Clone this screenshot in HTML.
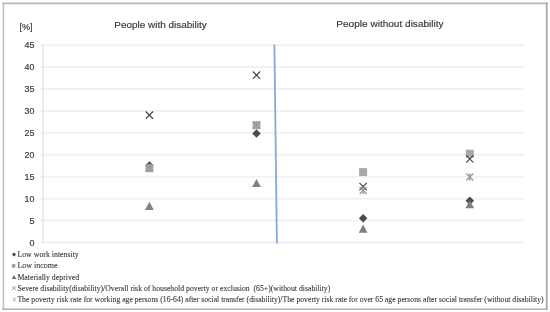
<!DOCTYPE html>
<html><head><meta charset="utf-8"><style>
html,body{margin:0;padding:0;background:#fff;}
body{width:550px;height:312px;overflow:hidden;position:relative;}
svg{position:absolute;left:0;top:0;filter:blur(0.45px);}
.ax{font-family:"Liberation Sans",sans-serif;font-size:9.8px;fill:#404040;stroke:#404040;stroke-width:0.22px;}
.tt{font-family:"Liberation Sans",sans-serif;font-size:9.8px;fill:#3a3a3a;stroke:#3a3a3a;stroke-width:0.18px;}
.lg text{font-family:"Liberation Serif",serif;font-size:7.5px;fill:#383838;stroke:#383838;stroke-width:0.1px;}
</style></head><body>
<svg width="550" height="312" viewBox="0 0 550 312">
<rect x="0" y="0" width="550" height="312" fill="#fff"/>
<line x1="2.2" y1="3.3" x2="547.6" y2="3.3" stroke="#b8b8b8" stroke-width="1.7"/>
<line x1="3.4" y1="2.5" x2="3.4" y2="310" stroke="#bdbdbd" stroke-width="1.5"/>
<line x1="546.75" y1="2.5" x2="546.75" y2="310" stroke="#a9a9a9" stroke-width="1.8"/>
<line x1="2.2" y1="309.2" x2="547.6" y2="309.2" stroke="#b0b0b0" stroke-width="1.5"/>
<line x1="40" y1="242.50" x2="524" y2="242.50" stroke="#f2f2f2" stroke-width="2"/>
<line x1="40" y1="220.57" x2="524" y2="220.57" stroke="#f2f2f2" stroke-width="2"/>
<line x1="40" y1="198.64" x2="524" y2="198.64" stroke="#f2f2f2" stroke-width="2"/>
<line x1="40" y1="176.71" x2="524" y2="176.71" stroke="#f2f2f2" stroke-width="2"/>
<line x1="40" y1="154.78" x2="524" y2="154.78" stroke="#f2f2f2" stroke-width="2"/>
<line x1="40" y1="132.85" x2="524" y2="132.85" stroke="#f2f2f2" stroke-width="2"/>
<line x1="40" y1="110.92" x2="524" y2="110.92" stroke="#f2f2f2" stroke-width="2"/>
<line x1="40" y1="88.99" x2="524" y2="88.99" stroke="#f2f2f2" stroke-width="2"/>
<line x1="40" y1="67.06" x2="524" y2="67.06" stroke="#f2f2f2" stroke-width="2"/>
<line x1="40" y1="45.13" x2="524" y2="45.13" stroke="#f2f2f2" stroke-width="2"/>
<line x1="42.9" y1="44.93" x2="42.9" y2="242.80" stroke="#eaeaea" stroke-width="1.8"/>
<polygon points="149.40,161.30 153.65,165.55 149.40,169.80 145.15,165.55" fill="#4a4a4a"/>
<rect x="145.40" y="164.18" width="8.00" height="8.00" fill="#a8a8a8"/>
<polygon points="149.40,201.70 153.80,209.90 145.00,209.90" fill="#808080"/>
<path d="M145.75,111.46L153.05,118.76M153.05,111.46L145.75,118.76" stroke="#474747" stroke-width="1.2" fill="none"/>
<path d="M145.90,164.68L152.90,171.68M152.90,164.68L145.90,171.68M149.40,164.38L149.40,171.98" stroke="#9a9a9a" stroke-width="1.3" fill="none"/>
<polygon points="256.50,129.28 260.75,133.53 256.50,137.78 252.25,133.53" fill="#4a4a4a"/>
<rect x="252.50" y="121.19" width="8.00" height="8.00" fill="#a8a8a8"/>
<polygon points="256.50,178.89 260.90,187.09 252.10,187.09" fill="#808080"/>
<path d="M252.85,71.54L260.15,78.84M260.15,71.54L252.85,78.84" stroke="#474747" stroke-width="1.2" fill="none"/>
<path d="M253.00,121.69L260.00,128.69M260.00,121.69L253.00,128.69M256.50,121.39L256.50,128.99" stroke="#9a9a9a" stroke-width="1.3" fill="none"/>
<polygon points="363.10,213.93 367.35,218.18 363.10,222.43 358.85,218.18" fill="#4a4a4a"/>
<rect x="359.10" y="168.12" width="8.00" height="8.00" fill="#a8a8a8"/>
<polygon points="363.10,224.50 367.50,232.70 358.70,232.70" fill="#808080"/>
<path d="M359.45,182.95L366.75,190.25M366.75,182.95L359.45,190.25" stroke="#474747" stroke-width="1.2" fill="none"/>
<path d="M359.60,187.05L366.60,194.05M366.60,187.05L359.60,194.05M363.10,186.75L363.10,194.35" stroke="#9a9a9a" stroke-width="1.3" fill="none"/>
<polygon points="469.80,196.38 474.05,200.63 469.80,204.88 465.55,200.63" fill="#4a4a4a"/>
<rect x="465.80" y="149.70" width="8.00" height="8.00" fill="#a8a8a8"/>
<polygon points="469.80,199.94 474.20,208.14 465.40,208.14" fill="#808080"/>
<path d="M466.15,155.32L473.45,162.62M473.45,155.32L466.15,162.62" stroke="#474747" stroke-width="1.2" fill="none"/>
<path d="M466.30,173.45L473.30,180.45M473.30,173.45L466.30,180.45M469.80,173.15L469.80,180.75" stroke="#9a9a9a" stroke-width="1.3" fill="none"/>
<line x1="274.4" y1="44.6" x2="276.9" y2="243.4" stroke="#8aa7d9" stroke-width="1.8"/>
<g class="ax">
<text x="34.4" y="245.60" text-anchor="end" textLength="5.0" lengthAdjust="spacingAndGlyphs">0</text>
<text x="34.4" y="223.67" text-anchor="end" textLength="5.0" lengthAdjust="spacingAndGlyphs">5</text>
<text x="34.4" y="201.74" text-anchor="end" textLength="9.9" lengthAdjust="spacingAndGlyphs">10</text>
<text x="34.4" y="179.81" text-anchor="end" textLength="9.9" lengthAdjust="spacingAndGlyphs">15</text>
<text x="34.4" y="157.88" text-anchor="end" textLength="9.9" lengthAdjust="spacingAndGlyphs">20</text>
<text x="34.4" y="135.95" text-anchor="end" textLength="9.9" lengthAdjust="spacingAndGlyphs">25</text>
<text x="34.4" y="114.02" text-anchor="end" textLength="9.9" lengthAdjust="spacingAndGlyphs">30</text>
<text x="34.4" y="92.09" text-anchor="end" textLength="9.9" lengthAdjust="spacingAndGlyphs">35</text>
<text x="34.4" y="70.16" text-anchor="end" textLength="9.9" lengthAdjust="spacingAndGlyphs">40</text>
<text x="34.4" y="48.23" text-anchor="end" textLength="9.9" lengthAdjust="spacingAndGlyphs">45</text>
<text x="19.4" y="30.2" textLength="13.2" lengthAdjust="spacingAndGlyphs" style="font-size:9.2px">[%]</text>
</g>
<g class="tt">
<text x="114.3" y="27.8" textLength="92.4" lengthAdjust="spacingAndGlyphs">People with disability</text>
<text x="336.3" y="26.5" textLength="107.3" lengthAdjust="spacingAndGlyphs">People without disability</text>
</g>
<g class="lg">
<polygon points="14.00,252.50 16.00,254.50 14.00,256.50 12.00,254.50" fill="#3c3c3c"/>
<text x="17.4" y="257.10" textLength="61.4" lengthAdjust="spacingAndGlyphs">Low work intensity</text>
<rect x="11.80" y="264.10" width="3.60" height="3.60" fill="#a0a0a0"/>
<text x="17.4" y="268.30" textLength="40.2" lengthAdjust="spacingAndGlyphs">Low income</text>
<polygon points="14.00,274.90 16.40,279.10 11.60,279.10" fill="#707070"/>
<text x="17.4" y="279.50" textLength="61.8" lengthAdjust="spacingAndGlyphs">Materially deprived</text>
<path d="M12.20,286.20L16.00,290.00M16.00,286.20L12.20,290.00" stroke="#8a8a8a" stroke-width="0.8" fill="none"/>
<text x="17.4" y="290.70" textLength="312.9" lengthAdjust="spacingAndGlyphs">Severe disability(disability)/Overall risk of household poverty or exclusion &#160;(65+)(without disability)</text>
<path d="M12.70,297.80L16.10,301.20M16.10,297.80L12.70,301.20M14.40,297.50L14.40,301.50" stroke="#b3b3b3" stroke-width="0.8" fill="none"/>
<text x="17.4" y="301.90" textLength="526.2" lengthAdjust="spacingAndGlyphs">The poverty risk rate for working age persons (16-64) after social transfer (disability)/The poverty risk rate for over 65 age persons after social transfer (without disability)</text>
</g>
</svg>
</body></html>
